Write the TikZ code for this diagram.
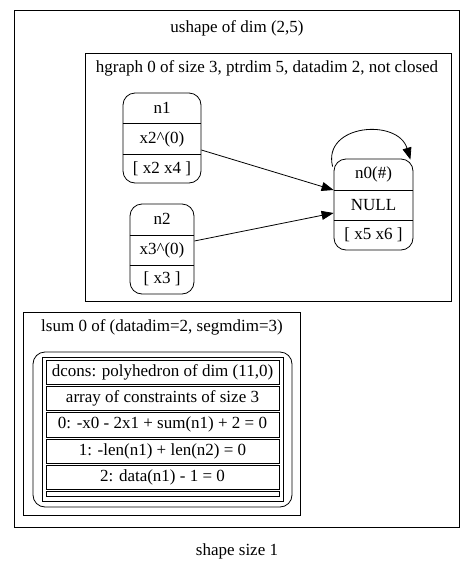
\documentclass[tikz,border=0pt]{standalone}
\usepackage{fontspec}
\setmainfont{Liberation Serif}
\usetikzlibrary{arrows.meta}
\begin{document}
\begin{tikzpicture}[x=1pt,y=-1pt,line width=0.8pt,
  every node/.style={font=\fontsize{17}{19}\selectfont, inner sep=0pt},
  rec/.style={draw, rounded corners=12pt},
  cell/.style={draw, minimum width=233pt},
  lbl/.style={},
  arr/.style={-{Triangle[length=12pt,width=9pt]}}]
\useasboundingbox (0,0) rectangle (474,571);
% clusters
\draw (14,10) rectangle (459,527);
\node[lbl] (t0) at (237,28) {ushape of dim (2,5)};
\draw (85,53) rectangle (451,301);
\node[lbl] (t1) at (267,68) {hgraph 0 of size 3, ptrdim 5, datadim 2, not closed};
\draw (23,312) rectangle (300,515);
\node[lbl] (t2) at (162,327) {lsum 0 of (datadim=2, segmdim=3)};
\node[lbl] (t3) at (237,551) {shape size 1};
% n1
\node[rec, minimum width=78pt, minimum height=90pt] (n1) at (162,138) {};
\draw (n1.west |- 0,123) -- (n1.east |- 0,123);
\draw (n1.west |- 0,154) -- (n1.east |- 0,154);
\node (n1a) at (162,108) {n1};
\node (n1b) at (162,139) {x2\^{}(0)};
\node (n1c) at (162,169) {[ x2 x4 ]};
% n2
\node[rec, minimum width=64pt, minimum height=90pt] (n2) at (162,249) {};
\draw (n2.west |- 0,235) -- (n2.east |- 0,235);
\draw (n2.west |- 0,265) -- (n2.east |- 0,265);
\node (n2a) at (162,219) {n2};
\node (n2b) at (162,250) {x3\^{}(0)};
\node (n2c) at (162,279) {[ x3 ]};
% n0
\node[rec, minimum width=79pt, minimum height=91pt] (n0) at (373.5,204.5) {};
\draw (n0.west |- 0,190) -- (n0.east |- 0,190);
\draw (n0.west |- 0,220) -- (n0.east |- 0,220);
\node (n0a) at (373.5,174) {n0(\#)};
\node (n0b) at (373.5,205) {NULL};
\node (n0c) at (373.5,235) {[ x5 x6 ]};
% edges
\draw[arr] ([yshift=-12pt]n1.east) -- ([yshift=14.5pt]n0.west);
\draw[arr] ([yshift=8pt]n2.east) -- ([yshift=-8.5pt]n0.west);
\draw[arr] ([xshift=-1pt,yshift=-8pt]n0.north west) .. controls (322,124) and (398,118) .. ([xshift=-3pt,yshift=-1pt]n0.north east);
% lsum content
\node[draw, rounded corners=12pt, minimum width=259pt, minimum height=155pt] (ls) at (162.5,429.5) {};
\node[draw, minimum width=241pt, minimum height=144pt] (tb) at (162.5,429) {};
\node[cell, minimum height=24pt] (c1) at (162.5,372) {dcons: polyhedron of dim (11,0)};
\node[cell, minimum height=24pt] (c2) at (162.5,398) {array of constraints of size 3};
\node[cell, minimum height=25pt] (c3) at (162.5,424.5) {0: -x0 - 2x1 + sum(n1) + 2 = 0};
\node[cell, minimum height=24pt] (c4) at (162.5,451) {1: -len(n1) + len(n2) = 0};
\node[cell, minimum height=24pt] (c5) at (162.5,477) {2: data(n1) - 1 = 0};
\node[cell, minimum height=5pt] (c6) at (162.5,493.5) {};
\end{tikzpicture}
\end{document}
